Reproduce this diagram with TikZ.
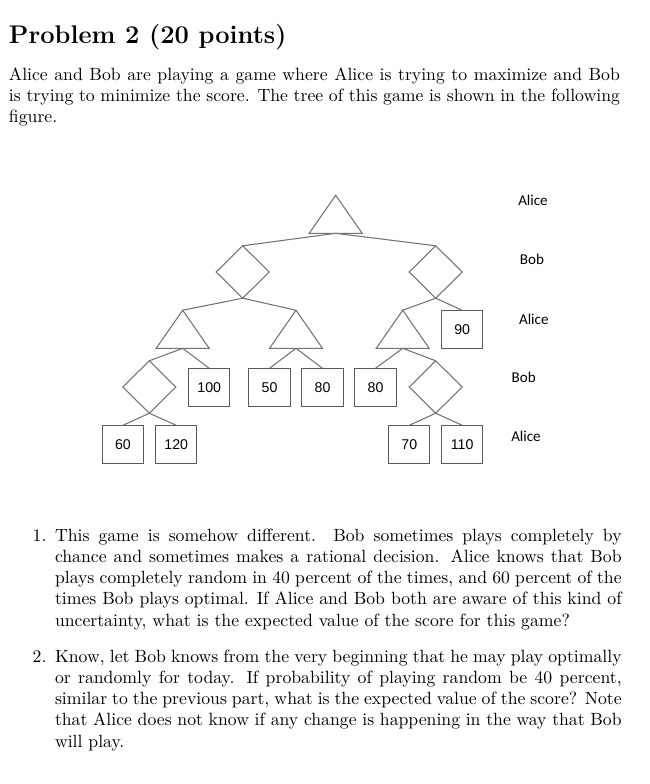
\documentclass[tikz,border=0pt]{standalone}
\usepackage{fontspec}
\newfontfamily\calfont{Carlito}
\newfontfamily\arialfont{Liberation Sans}
\usepackage{tikz}
\usetikzlibrary{shapes.geometric, positioning}
\definecolor{treegray}{gray}{0.45}

\begin{document}
\begin{tikzpicture}[
    x=0.5647pt, y=-0.5647pt,
    every node/.style={inner sep=0pt, outer sep=0pt},
    alice/.style={isosceles triangle, isosceles triangle stretches, shape border rotate=90, draw=treegray, line width=0.6pt, minimum width=29.9pt, minimum height=21.5pt},
    bob/.style={diamond, draw=treegray, line width=0.6pt, minimum width=29.9pt, minimum height=29.6pt},
    leaf/.style={rectangle, draw=black!65, line width=0.6pt, minimum width=23.2pt, minimum height=21.7pt, font=\arialfont\fontsize{8}{9}\selectfont},
    player/.style={font=\calfont\fontsize{8.5}{10}\selectfont},
    branch/.style={draw=treegray, line width=0.6pt},
    para/.style={anchor=base west, text width=#1, align=justify}
]
\useasboundingbox[fill=white] (0,0) rectangle (650,784);

% heading and statement
\node[anchor=base west, font=\Large\bfseries] (title) at (9,43) {Problem 2 (20 points)};
\node[para=345pt] (intro) at (9,80) {Alice and Bob are playing a game where Alice is trying to maximize and Bob is trying to minimize the score. The tree of this game is shown in the following figure.};

% game tree
\node[alice, anchor=lower side] (a0) at (335.7,233.3) {};
\node[bob] (b1) at (242.7,272) {};
\node[bob] (b2) at (435.7,272) {};
\node[alice, anchor=lower side] (a1) at (182.7,348.3) {};
\node[alice, anchor=lower side] (a2) at (296,348.3) {};
\node[alice, anchor=lower side] (a3) at (402.7,348.3) {};
\node[leaf] (v90) at (462.2,329.5) {90};
\node[bob] (b3) at (149.3,387) {};
\node[leaf] (v100) at (209.2,387.5) {100};
\node[leaf] (v50) at (269.5,387.5) {50};
\node[leaf] (v80a) at (322.5,387.5) {80};
\node[leaf] (v80b) at (375.5,387.5) {80};
\node[bob] (b4) at (435.7,387) {};
\node[leaf] (v60) at (123,444.5) {60};
\node[leaf] (v120) at (176.2,444.5) {120};
\node[leaf] (v70) at (409.3,444.5) {70};
\node[leaf] (v110) at (462.2,444.5) {110};

\draw[branch] (a0.lower side) -- (b1.north);
\draw[branch] (a0.lower side) -- (b2.north);
\draw[branch] (b1.south) -- (a1.apex);
\draw[branch] (b1.south) -- (a2.apex);
\draw[branch] (b2.south) -- (a3.apex);
\draw[branch] (b2.south) -- (v90.north);
\draw[branch] (a1.lower side) -- (b3.north);
\draw[branch] (a1.lower side) -- (v100.north);
\draw[branch] (a2.lower side) -- (v50.north);
\draw[branch] (a2.lower side) -- (v80a.north);
\draw[branch] (a3.lower side) -- (v80b.north);
\draw[branch] (a3.lower side) -- (b4.north);
\draw[branch] (b3.south) -- (v60.north);
\draw[branch] (b3.south) -- (v120.north);
\draw[branch] (b4.south) -- (v70.north);
\draw[branch] (b4.south) -- (v110.north);

% whose turn
\node[player] (t1) at (533,200.8) {Alice};
\node[player] (t2) at (532,259) {Bob};
\node[player] (t3) at (533.8,319.3) {Alice};
\node[player] (t4) at (523.7,377.7) {Bob};
\node[player] (t5) at (526,436.7) {Alice};

% questions
\node[anchor=base east] (n1) at (46.5,541) {1.};
\node[para=320pt] (q1) at (55,541) {This game is somehow different.  Bob sometimes plays completely by chance and sometimes makes a rational decision.  Alice knows that Bob plays completely random in 40 percent of the times, and 60 percent of the times Bob plays optimal. If Alice and Bob both are aware of this kind of uncertainty, what is the expected value of the score for this game?};
\node[anchor=base east] (n2) at (46.5,662) {2.};
\node[para=320pt] (q2) at (55,662) {Know, let Bob knows from the very beginning that he may play optimally or randomly for today.  If probability of playing random be 40 percent, similar to the previous part, what is the expected value of the score? Note that Alice does not know if any change is happening in the way that Bob will play.};
\end{tikzpicture}
\end{document}
